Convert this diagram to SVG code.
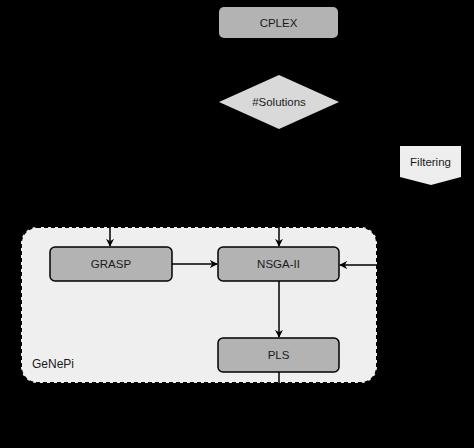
<svg xmlns="http://www.w3.org/2000/svg" width="474" height="448" viewBox="0 0 474 448">
<defs>
<style>
.box{fill:#b3b3b3;stroke:#000;stroke-width:1.5}
.lbl{font-family:"Liberation Sans",Arial,sans-serif;font-size:11.5px;fill:#1a1a1a;text-anchor:middle}
.edge{fill:none;stroke:#000;stroke-width:1.5}
</style>
<marker id="arr" viewBox="0 0 10 10" refX="9" refY="5" markerWidth="8" markerHeight="8" orient="auto" markerUnits="userSpaceOnUse">
<path d="M0,0 L10,5 L0,10 L3,5 Z" fill="#000"/>
</marker>
</defs>
<rect width="474" height="448" fill="#000"/>
<g id="genepi">
<rect x="21" y="227" width="356" height="156" rx="16" fill="#efefef" stroke="#000" stroke-width="2" stroke-dasharray="4 3"/>
<text x="32" y="368" font-family="Liberation Sans,Arial,sans-serif" font-size="12px" fill="#1a1a1a">GeNePi</text>
</g>
<g id="connectors">
<path class="edge" d="M279,38 L279,74" marker-end="url(#arr)"/>
<path class="edge" d="M219,102 L110,102 L110,246" marker-end="url(#arr)"/>
<path class="edge" d="M279,129 L279,246" marker-end="url(#arr)"/>
<path class="edge" d="M339,102 L431,102 L431,145" marker-end="url(#arr)"/>
<path class="edge" d="M431,185 L431,265 L340,265" marker-end="url(#arr)"/>
<path class="edge" d="M172,264 L217,264" marker-end="url(#arr)"/>
<path class="edge" d="M279,281 L279,337" marker-end="url(#arr)"/>
<path class="edge" d="M279,372 L279,420"/>
</g>
<g id="cplex">
<rect x="219" y="7" width="119" height="31" rx="5" fill="#b3b3b3"/>
<text class="lbl" x="278.5" y="26.5">CPLEX</text>
</g>
<g id="solutions">
<polygon points="279,75 339,102 279,129 219,102" fill="#d9d9d9"/>
<text class="lbl" x="279" y="106">#Solutions</text>
</g>
<g id="filtering">
<polygon points="400,146 461,146 461,177 431,185 400,177" fill="#eeeeee"/>
<text class="lbl" x="430.5" y="166">Filtering</text>
</g>
<g id="grasp">
<rect class="box" x="50" y="247" width="122" height="34" rx="5"/>
<text class="lbl" x="111" y="268">GRASP</text>
</g>
<g id="nsga">
<rect class="box" x="218" y="247" width="121" height="34" rx="5"/>
<text class="lbl" x="278.5" y="268">NSGA-II</text>
</g>
<g id="pls">
<rect class="box" x="218" y="338" width="121" height="34" rx="5"/>
<text class="lbl" x="278.5" y="359">PLS</text>
</g>
</svg>
